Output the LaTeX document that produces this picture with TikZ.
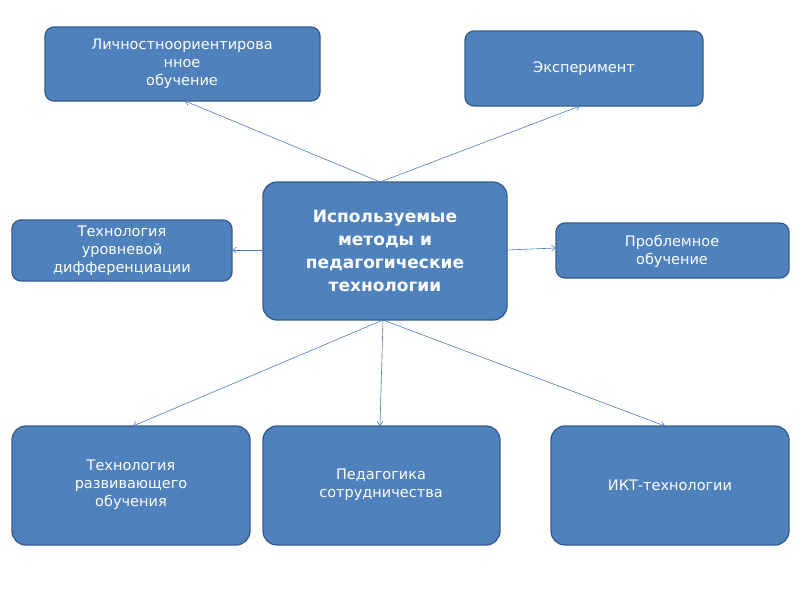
\documentclass[tikz,border=0pt]{standalone}
\usepackage{fontspec}
\setmainfont{DejaVu Sans}
\usetikzlibrary{arrows.meta}
\definecolor{boxfill}{HTML}{4F81BD}
\definecolor{boxline}{HTML}{385D8A}
\definecolor{arr}{HTML}{4A7EBB}
\begin{document}
\begin{tikzpicture}[x=1pt,y=-1pt,
  bx/.style={draw=boxline,line width=1.3pt,fill=boxfill,rounded corners=9pt},
  tx/.style={text=white,align=center,font=\fontsize{14.5}{18}\selectfont},
  ar/.style={draw=arr,line width=0.6pt,-{Straight Barb[length=4pt,width=6pt]}}]
\useasboundingbox (0,0) rectangle (800,600);
\draw[bx] (45,27) rectangle (320,101); \node[tx] (a) at (182,64) {Личностноориентирова\\нное\\обучение};
\draw[bx] (465,31) rectangle (703,106); \node[tx] (b) at (584,69) {Эксперимент};
\draw[bx,rounded corners=14pt] (263,182) rectangle (507,320);
\node[tx,font=\bfseries\fontsize{17}{23}\selectfont] (c) at (385,251) {Используемые\\методы и\\педагогические\\технологии};
\draw[bx] (12,220) rectangle (232,281); \node[tx] (d) at (122,251) {Технология\\уровневой\\дифференциации};
\draw[bx] (556,223) rectangle (789,278); \node[tx] (e) at (672,251) {Проблемное\\обучение};
\draw[bx,rounded corners=14pt] (12,426) rectangle (250,545); \node[tx] (f) at (131,485) {Технология\\развивающего\\обучения};
\draw[bx,rounded corners=14pt] (263,426) rectangle (500,545); \node[tx] (g) at (381,485) {Педагогика\\сотрудничества};
\draw[bx,rounded corners=14pt] (551,426) rectangle (789,545); \node[tx] (h) at (670,485) {ИКТ-технологии};
\coordinate (ct) at (380,182); \coordinate (cb) at (383,320);
\coordinate (cl) at (263,250); \coordinate (cr) at (507,250);
\coordinate (at) at (185,101); \coordinate (bt) at (580,106);
\coordinate (dt) at (232,250); \coordinate (et) at (556,248);
\coordinate (ft) at (133,426); \coordinate (gt) at (380,426); \coordinate (ht) at (665,426);
\draw[ar] (ct) -- (at); \draw[ar] (ct) -- (bt);
\draw[ar] (cl) -- (dt); \draw[ar] (cr) -- (et);
\draw[ar] (cb) -- (ft); \draw[ar] (cb) -- (gt); \draw[ar] (cb) -- (ht);
\end{tikzpicture}
\end{document}
